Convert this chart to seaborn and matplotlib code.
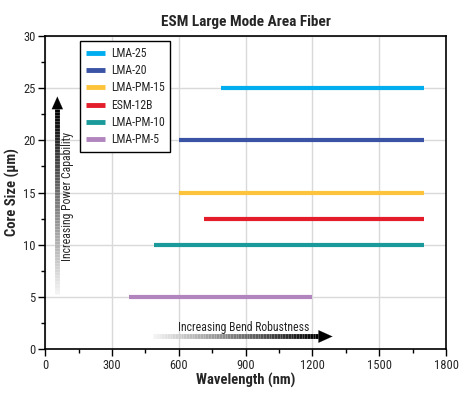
import numpy as np
import pandas as pd
import matplotlib
matplotlib.use("Agg")
import matplotlib.pyplot as plt
from matplotlib.collections import LineCollection
from matplotlib.ticker import MultipleLocator
import seaborn as sns

fibers = ["LMA-25", "LMA-20", "LMA-PM-15", "ESM-12B", "LMA-PM-10", "LMA-PM-5"]
core_size = [25, 20, 15, 12.5, 10, 5]
wl_start = [790, 600, 600, 715, 490, 375]
wl_end = [1700, 1700, 1700, 1700, 1700, 1200]
colors = ["#00AEEF", "#3A53A4", "#FDC33B", "#E31E2A", "#1A9A9A", "#B284BE"]
x_ticks = [0, 300, 600, 900, 1200, 1500, 1800]
y_ticks = [0, 5, 10, 15, 20, 25, 30]

rows = []
for f, c, s, e in zip(fibers, core_size, wl_start, wl_end):
    rows.append({"Fiber": f, "Wavelength": s, "Core": c})
    rows.append({"Fiber": f, "Wavelength": e, "Core": c})
df = pd.DataFrame(rows)

sns.set_style("whitegrid")
plt.rcParams["font.family"] = ["Roboto Condensed", "Roboto", "DejaVu Sans"]

fig = plt.figure(figsize=(4.6, 4.0), dpi=100)
ax = fig.add_axes([0.098, 0.1275, 0.872, 0.7825])

sns.lineplot(data=df, x="Wavelength", y="Core", hue="Fiber", hue_order=fibers,
             palette=colors, sort=False, estimator=None, units="Fiber",
             linewidth=3, ax=ax, solid_capstyle="butt")

ax.set_xlim(0, 1800)
ax.set_ylim(0, 30)
ax.set_xticks(x_ticks)
ax.set_yticks(y_ticks)
ax.xaxis.set_minor_locator(MultipleLocator(150))
ax.yaxis.set_minor_locator(MultipleLocator(2.5))
ax.grid(True, which="major", color="#d9d9d9", linewidth=1)
ax.grid(False, which="minor")
for sp in ax.spines.values():
    sp.set_color("black")
    sp.set_linewidth(1.2)
ax.tick_params(which="both", direction="out", color="black", labelsize=9, pad=2)
ax.tick_params(axis="x", which="major", length=5, width=1, bottom=True)
ax.tick_params(axis="y", which="major", length=5, width=1, left=True)
ax.tick_params(axis="x", which="minor", length=3, width=1, bottom=True)
ax.tick_params(axis="y", which="minor", length=3, width=1, left=True)

ax.set_xlabel("Wavelength (nm)", fontsize=10.5, fontweight="bold", labelpad=1)
ax.set_ylabel("Core Size (µm)", fontsize=10.5, fontweight="bold", labelpad=2)
ax.set_title("ESM Large Mode Area Fiber", fontsize=11, fontweight="bold", pad=7)

leg = ax.legend(loc="upper left", bbox_to_anchor=(0.087, 0.984), borderaxespad=0,
                frameon=True, fancybox=False, edgecolor="black", fontsize=8.5,
                handlelength=1.6, borderpad=0.5, labelspacing=0.36, framealpha=1,
                handletextpad=0.5)
leg.get_frame().set_linewidth(1.0)
for h in leg.get_lines():
    h.set_linewidth(3.5)

# Gradient arrows (annotations)
n = 60
ys = np.linspace(5.3, 23.0, n + 1)
segs = [[(55, ys[i]), (55, ys[i + 1])] for i in range(n)]
cols = [plt.cm.gray(0.95 - 0.95 * i / (n - 1)) for i in range(n)]
ax.add_collection(LineCollection(segs, colors=cols, linewidths=3.5, capstyle="butt"))
ax.annotate("", xy=(55, 24.2), xytext=(55, 22.8),
            arrowprops=dict(arrowstyle="-|>,head_length=0.9,head_width=0.4",
                            color="black", lw=0.1, shrinkA=0, shrinkB=0))
ax.text(100, 14.6, "Increasing Power Capability", rotation=90, ha="center",
        va="center", fontsize=8.5)

xs = np.linspace(485, 1225, n + 1)
segs2 = [[(xs[i], 1.2), (xs[i + 1], 1.2)] for i in range(n)]
ax.add_collection(LineCollection(segs2, colors=cols, linewidths=3.5, capstyle="butt"))
ax.annotate("", xy=(1290, 1.2), xytext=(1215, 1.2),
            arrowprops=dict(arrowstyle="-|>,head_length=1.0,head_width=0.45",
                            color="black", lw=0.1, shrinkA=0, shrinkB=0))
ax.text(890, 2.1, "Increasing Bend Robustness", ha="center", va="center", fontsize=8.5)

fig.savefig("out.png", dpi=100)
